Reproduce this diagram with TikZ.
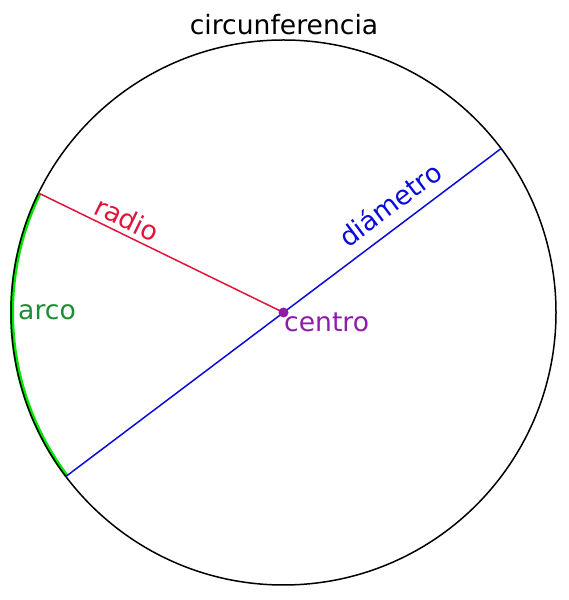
\documentclass[tikz,border=0pt]{standalone}
\usetikzlibrary{calc}
\usepackage{fontspec}
\setmainfont{DejaVu Sans}
\definecolor{radiocol}{RGB}{225,20,60}
\definecolor{diamcol}{RGB}{10,10,220}
\definecolor{arcline}{RGB}{0,230,0}
\definecolor{arcotext}{RGB}{30,140,50}
\definecolor{centrocol}{RGB}{140,30,170}
\begin{document}
\begin{tikzpicture}[x=1pt,y=1pt,
  lbl/.style={inner sep=0pt,font=\fontsize{26.6}{31}\selectfont},
  thinline/.style={line width=1.5pt}]
\useasboundingbox (0,0) rectangle (568,600);
\coordinate (C) at (283.5,287.5);
\draw[line width=4pt,arcline] ($(C)+(154:271.5)$) arc (154:217:271.5);
\draw[thinline,black] (C) circle (272.5);
\coordinate (R) at ($(C)+(154:272.5)$);
\coordinate (D1) at ($(C)+(37:272.5)$);
\coordinate (D2) at ($(C)+(217:272.5)$);
\draw[thinline,radiocol] (C) -- (R);
\draw[thinline,diamcol] (D1) -- (D2);
\fill[centrocol] (C) circle (5);
\node[lbl,anchor=base] (tcirc) at (284,565) {circunferencia};
\node[lbl,anchor=base west,text=arcotext] (tarco) at (18,280) {arco};
\node[lbl,anchor=base west,text=centrocol] (tcentro) at (284,268) {centro};
\node[lbl,text=radiocol,rotate=-26] (tradio) at (127,381) {radio};
\node[lbl,text=diamcol,rotate=37] (tdiam) at (390,396) {diámetro};
\end{tikzpicture}
\end{document}
